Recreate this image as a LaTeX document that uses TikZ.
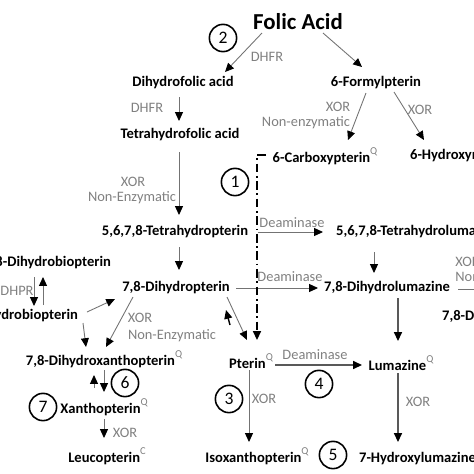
\documentclass[tikz,border=0pt]{standalone}
\usepackage{fontspec}
\setmainfont{Carlito}
\usetikzlibrary{arrows.meta,calc,positioning}
\definecolor{lblgray}{RGB}{128,128,128}
\definecolor{linegray}{RGB}{115,115,115}
\newcommand{\supq}[1]{\raisebox{1.1ex}{\fontsize{6}{6}\selectfont\mdseries\color{lblgray}#1}}

\begin{document}
\begin{tikzpicture}[x=0.02cm,y=-0.02cm,>={Triangle[length=5pt,width=4.5pt,color=black]},
  cmpd/.style={font=\fontsize{8.3}{9}\selectfont\bfseries,inner sep=1pt},
  lbl/.style={font=\fontsize{8.2}{9}\selectfont,text=lblgray,inner sep=0pt},
  num/.style={draw,circle,line width=0.9pt,minimum size=15.5pt,inner sep=0pt,font=\fontsize{10}{10}\selectfont},
  rxn/.style={->,draw=linegray,line width=0.5pt},
  dark/.style={->,draw=black!65,line width=0.8pt},
  back/.style={->,draw=black,line width=0.8pt},
  dashdot/.style={->,draw=black,line width=0.9pt,dash pattern=on 5pt off 2pt on 1pt off 2pt}]
  \useasboundingbox (0,0) rectangle (474,474);
  \clip (0,0) rectangle (474,474);

      % compounds
      \node[cmpd,font=\fontsize{13}{14}\selectfont\bfseries] (folic) at (298,22) {Folic Acid};
      \node[cmpd] (dhf) at (183,83) {Dihydrofolic acid};
      \node[cmpd] (thf) at (180,135) {Tetrahydrofolic acid};
      \node[cmpd] (fp) at (376,83) {6-Formylpterin};
      \node[cmpd] (cp) at (325,156) {6-Carboxypterin\supq{Q}};
      \node[cmpd,anchor=west] (hmp) at (408,156) {6-Hydroxymethylpterin};
      \node[cmpd] (thp) at (175,232) {5,6,7,8-Tetrahydropterin};
      \node[cmpd,anchor=west] (thl) at (334,232) {5,6,7,8-Tetrahydrolumazine};
      \node[cmpd] (dhp) at (176,288) {7,8-Dihydropterin};
      \node[cmpd] (dhl) at (387,288) {7,8-Dihydrolumazine};
      \node[cmpd,anchor=east] (dhb) at (113,263) {7,8-Dihydrobiopterin};
      \node[cmpd,anchor=east] (thb) at (80,316) {Tetrahydrobiopterin};
      \node[cmpd,anchor=west] (dxl) at (440,317) {7,8-Dihydroxylumazine};
      \node[cmpd] (dhx) at (104,359) {7,8-Dihydroxanthopterin\supq{Q}};
      \node[cmpd] (xan) at (104,407) {Xanthopterin\supq{Q}};
      \node[cmpd] (leu) at (107,456) {Leucopterin\supq{C}};
      \node[cmpd] (pt) at (251,361) {Pterin\supq{Q}};
      \node[cmpd] (lum) at (401,363) {Lumazine\supq{Q}};
      \node[cmpd] (isx) at (257,456) {Isoxanthopterin\supq{Q}};
      \node[cmpd,anchor=west] (hl) at (357,456) {7-Hydroxylumazine\supq{C}};
      \coordinate (offr) at (490,289);

      % numbered circles
      \node[num] (n1) at (235,182) {1};
      \node[num] (n2) at (223,38) {2};
      \node[num] (n3) at (229,399) {3};
      \node[num] (n4) at (319,384) {4};
      \node[num] (n5) at (333,455) {5};
      \node[num] (n6) at (125,383) {6};
      \node[num] (n7) at (43,407) {7};

      % enzyme labels
      \node[lbl] (l1) at (267,57) {DHFR};
      \node[lbl] (l2) at (147,108) {DHFR};
      \node[lbl] (l3) at (338,107) {XOR};
      \node[lbl] (l4) at (306,123) {Non-enzymatic};
      \node[lbl] (l5) at (420,110) {XOR};
      \node[lbl] (l6) at (133,182) {XOR};
      \node[lbl] (l7) at (132,198) {Non-Enzymatic};
      \node[lbl] (l8) at (292,223) {Deaminase};
      \node[lbl] (l9) at (290,277) {Deaminase};
      \node[lbl] (l10) at (17,291) {DHPR};
      \node[lbl] (l11) at (140,318) {XOR};
      \node[lbl] (l12) at (172,336) {Non-Enzymatic};
      \node[lbl] (l13) at (264,399) {XOR};
      \node[lbl] (l14) at (315,355) {Deaminase};
      \node[lbl] (l15) at (418,402) {XOR};
      \node[lbl] (l16) at (125,433) {XOR};
      \node[lbl,anchor=west] (l17) at (455,262) {XOR};
      \node[lbl,anchor=west] (l18) at (455,278) {Non-enzymatic};

      \path
      ($(folic)+(-36,11)$) edge[rxn] ($(dhf)+(42,-11)$)
      ($(folic)+(25,11)$) edge[rxn] ($(fp)+(-14,-16)$)
      ($(dhf)+(-4,14)$) edge[rxn] ($(thf)+(-1,-14)$)
      ($(fp)+(-10,10)$) edge[rxn] ($(cp)+(23,-16)$)
      ($(fp)+(18,9)$) edge[rxn] ($(hmp.west)+(16,-16)$)
      ($(thf)+(-1,17)$) edge[rxn] ($(thp)+(4,-17)$)
      ($(thp)+(83,0)$) edge[rxn] ($(thl.west)+(-11,0)$)
      ($(thp)+(4,15)$) edge[rxn] ($(dhp)+(3,-18)$)
      ($(thl.west)+(40,20)$) edge[rxn] ($(dhl)+(-13,-15)$)
      ($(dhp)+(60,0)$) edge[rxn] ($(dhl)+(-69,0)$)
      ($(dhl)+(71,1)$) edge[draw=linegray,line width=0.5pt] (offr)

      ($(dhb.east)+(-79,14)$) edge[rxn] ($(thb.east)+(-46,-10)$)
      ($(thb.east)+(-37,-11)$) edge[rxn] ($(dhb.east)+(-70,14)$)
      ($(thb.east)+(7,-4)$) edge[rxn] ($(dhp)+(-61,11)$)
      ($(thb.east)+(3,7)$) edge[rxn] ($(dhx)+(-18,-12)$)
      ($(dhp)+(-43,9)$) edge[rxn] ($(dhx)+(2,-12)$)
      ($(dhp)+(51,9)$) edge[rxn] ($(pt)+(-4,-21)$)
      ($(pt)+(-21,-36)$) edge[back] ($(dhp)+(50,22)$)

      ($(dhl)+(11,10)$) edge[dark] ($(lum)+(-3,-22)$)
      ($(pt)+(24,4)$) edge[dark] ($(lum)+(-39,2)$)
      ($(pt)+(-2,9)$) edge[rxn] ($(isx)+(-8,-14)$)
      ($(lum)+(-3,10)$) edge[dark] ($(hl.west)+(41,-14)$)

      ($(dhx)+(0,11)$) edge[rxn] ($(xan)+(0,-15)$)
      ($(xan)+(-10,-19)$) edge[rxn] ($(dhx)+(-10,16)$)
      ($(xan)+(0,12)$) edge[rxn] ($(leu)+(-3,-18)$);

      \draw[dashdot] ($(cp)+(-59,-1)$) -| ($(pt)+(6,-21)$);

  \end{tikzpicture}
\end{document}
